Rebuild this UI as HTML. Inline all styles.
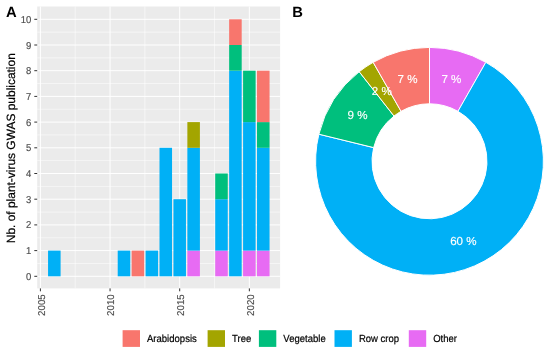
<!DOCTYPE html>
<html><head><meta charset="utf-8"><title>Figure</title>
<style>html,body{margin:0;padding:0;background:#fff}svg{display:block}</style></head>
<body>
<svg width="550" height="352" viewBox="0 0 550 352" font-family="'Liberation Sans', Arial, sans-serif" text-rendering="geometricPrecision">
<rect width="550" height="352" fill="#fff"/>
<rect x="37.2" y="6.5" width="242.90000000000003" height="281.9" fill="#EBEBEB"/>
<line x1="37.2" x2="280.1" y1="263.45" y2="263.45" stroke="#fff" stroke-width="0.55" opacity="0.95"/>
<line x1="37.2" x2="280.1" y1="237.75" y2="237.75" stroke="#fff" stroke-width="0.55" opacity="0.95"/>
<line x1="37.2" x2="280.1" y1="212.05" y2="212.05" stroke="#fff" stroke-width="0.55" opacity="0.95"/>
<line x1="37.2" x2="280.1" y1="186.35" y2="186.35" stroke="#fff" stroke-width="0.55" opacity="0.95"/>
<line x1="37.2" x2="280.1" y1="160.65" y2="160.65" stroke="#fff" stroke-width="0.55" opacity="0.95"/>
<line x1="37.2" x2="280.1" y1="134.95" y2="134.95" stroke="#fff" stroke-width="0.55" opacity="0.95"/>
<line x1="37.2" x2="280.1" y1="109.25" y2="109.25" stroke="#fff" stroke-width="0.55" opacity="0.95"/>
<line x1="37.2" x2="280.1" y1="83.55" y2="83.55" stroke="#fff" stroke-width="0.55" opacity="0.95"/>
<line x1="37.2" x2="280.1" y1="57.85" y2="57.85" stroke="#fff" stroke-width="0.55" opacity="0.95"/>
<line x1="37.2" x2="280.1" y1="32.15" y2="32.15" stroke="#fff" stroke-width="0.55" opacity="0.95"/>
<line y1="6.5" y2="288.4" x1="75.22" x2="75.22" stroke="#fff" stroke-width="0.55" opacity="0.95"/>
<line y1="6.5" y2="288.4" x1="144.88" x2="144.88" stroke="#fff" stroke-width="0.55" opacity="0.95"/>
<line y1="6.5" y2="288.4" x1="214.53" x2="214.53" stroke="#fff" stroke-width="0.55" opacity="0.95"/>
<line x1="37.2" x2="280.1" y1="276.30" y2="276.30" stroke="#fff" stroke-width="1"/>
<line x1="37.2" x2="280.1" y1="250.60" y2="250.60" stroke="#fff" stroke-width="1"/>
<line x1="37.2" x2="280.1" y1="224.90" y2="224.90" stroke="#fff" stroke-width="1"/>
<line x1="37.2" x2="280.1" y1="199.20" y2="199.20" stroke="#fff" stroke-width="1"/>
<line x1="37.2" x2="280.1" y1="173.50" y2="173.50" stroke="#fff" stroke-width="1"/>
<line x1="37.2" x2="280.1" y1="147.80" y2="147.80" stroke="#fff" stroke-width="1"/>
<line x1="37.2" x2="280.1" y1="122.10" y2="122.10" stroke="#fff" stroke-width="1"/>
<line x1="37.2" x2="280.1" y1="96.40" y2="96.40" stroke="#fff" stroke-width="1"/>
<line x1="37.2" x2="280.1" y1="70.70" y2="70.70" stroke="#fff" stroke-width="1"/>
<line x1="37.2" x2="280.1" y1="45.00" y2="45.00" stroke="#fff" stroke-width="1"/>
<line x1="37.2" x2="280.1" y1="19.30" y2="19.30" stroke="#fff" stroke-width="1"/>
<line y1="6.5" y2="288.4" x1="40.40" x2="40.40" stroke="#fff" stroke-width="1"/>
<line y1="6.5" y2="288.4" x1="110.05" x2="110.05" stroke="#fff" stroke-width="1"/>
<line y1="6.5" y2="288.4" x1="179.70" x2="179.70" stroke="#fff" stroke-width="1"/>
<line y1="6.5" y2="288.4" x1="249.35" x2="249.35" stroke="#fff" stroke-width="1"/>
<rect x="48.06" y="250.60" width="12.54" height="25.70" fill="#00B0F6"/>
<rect x="117.71" y="250.60" width="12.54" height="25.70" fill="#00B0F6"/>
<rect x="131.64" y="250.60" width="12.54" height="25.70" fill="#F8766D"/>
<rect x="145.57" y="250.60" width="12.54" height="25.70" fill="#00B0F6"/>
<rect x="159.50" y="147.80" width="12.54" height="128.50" fill="#00B0F6"/>
<rect x="173.43" y="199.20" width="12.54" height="77.10" fill="#00B0F6"/>
<rect x="187.36" y="250.60" width="12.54" height="25.70" fill="#E76BF3"/>
<rect x="187.36" y="147.80" width="12.54" height="102.80" fill="#00B0F6"/>
<rect x="187.36" y="122.10" width="12.54" height="25.70" fill="#A3A500"/>
<rect x="215.22" y="250.60" width="12.54" height="25.70" fill="#E76BF3"/>
<rect x="215.22" y="199.20" width="12.54" height="51.40" fill="#00B0F6"/>
<rect x="215.22" y="173.50" width="12.54" height="25.70" fill="#00BF7D"/>
<rect x="229.15" y="70.70" width="12.54" height="205.60" fill="#00B0F6"/>
<rect x="229.15" y="45.00" width="12.54" height="25.70" fill="#00BF7D"/>
<rect x="229.15" y="19.30" width="12.54" height="25.70" fill="#F8766D"/>
<rect x="243.08" y="250.60" width="12.54" height="25.70" fill="#E76BF3"/>
<rect x="243.08" y="122.10" width="12.54" height="128.50" fill="#00B0F6"/>
<rect x="243.08" y="70.70" width="12.54" height="51.40" fill="#00BF7D"/>
<rect x="257.01" y="250.60" width="12.54" height="25.70" fill="#E76BF3"/>
<rect x="257.01" y="147.80" width="12.54" height="102.80" fill="#00B0F6"/>
<rect x="257.01" y="122.10" width="12.54" height="25.70" fill="#00BF7D"/>
<rect x="257.01" y="70.70" width="12.54" height="51.40" fill="#F8766D"/>
<line x1="34.300000000000004" x2="37.2" y1="276.30" y2="276.30" stroke="#333" stroke-width="1"/>
<text transform="translate(31.20,279.80) scale(0.95,1)" font-size="10" fill="#4D4D4D" stroke="#4D4D4D" stroke-width="0.15" text-anchor="end">0</text>
<line x1="34.300000000000004" x2="37.2" y1="250.60" y2="250.60" stroke="#333" stroke-width="1"/>
<text transform="translate(31.20,254.10) scale(0.95,1)" font-size="10" fill="#4D4D4D" stroke="#4D4D4D" stroke-width="0.15" text-anchor="end">1</text>
<line x1="34.300000000000004" x2="37.2" y1="224.90" y2="224.90" stroke="#333" stroke-width="1"/>
<text transform="translate(31.20,228.40) scale(0.95,1)" font-size="10" fill="#4D4D4D" stroke="#4D4D4D" stroke-width="0.15" text-anchor="end">2</text>
<line x1="34.300000000000004" x2="37.2" y1="199.20" y2="199.20" stroke="#333" stroke-width="1"/>
<text transform="translate(31.20,202.70) scale(0.95,1)" font-size="10" fill="#4D4D4D" stroke="#4D4D4D" stroke-width="0.15" text-anchor="end">3</text>
<line x1="34.300000000000004" x2="37.2" y1="173.50" y2="173.50" stroke="#333" stroke-width="1"/>
<text transform="translate(31.20,177.00) scale(0.95,1)" font-size="10" fill="#4D4D4D" stroke="#4D4D4D" stroke-width="0.15" text-anchor="end">4</text>
<line x1="34.300000000000004" x2="37.2" y1="147.80" y2="147.80" stroke="#333" stroke-width="1"/>
<text transform="translate(31.20,151.30) scale(0.95,1)" font-size="10" fill="#4D4D4D" stroke="#4D4D4D" stroke-width="0.15" text-anchor="end">5</text>
<line x1="34.300000000000004" x2="37.2" y1="122.10" y2="122.10" stroke="#333" stroke-width="1"/>
<text transform="translate(31.20,125.60) scale(0.95,1)" font-size="10" fill="#4D4D4D" stroke="#4D4D4D" stroke-width="0.15" text-anchor="end">6</text>
<line x1="34.300000000000004" x2="37.2" y1="96.40" y2="96.40" stroke="#333" stroke-width="1"/>
<text transform="translate(31.20,99.90) scale(0.95,1)" font-size="10" fill="#4D4D4D" stroke="#4D4D4D" stroke-width="0.15" text-anchor="end">7</text>
<line x1="34.300000000000004" x2="37.2" y1="70.70" y2="70.70" stroke="#333" stroke-width="1"/>
<text transform="translate(31.20,74.20) scale(0.95,1)" font-size="10" fill="#4D4D4D" stroke="#4D4D4D" stroke-width="0.15" text-anchor="end">8</text>
<line x1="34.300000000000004" x2="37.2" y1="45.00" y2="45.00" stroke="#333" stroke-width="1"/>
<text transform="translate(31.20,48.50) scale(0.95,1)" font-size="10" fill="#4D4D4D" stroke="#4D4D4D" stroke-width="0.15" text-anchor="end">9</text>
<line x1="34.300000000000004" x2="37.2" y1="19.30" y2="19.30" stroke="#333" stroke-width="1"/>
<text transform="translate(31.20,22.80) scale(0.95,1)" font-size="10" fill="#4D4D4D" stroke="#4D4D4D" stroke-width="0.15" text-anchor="end">10</text>
<line y1="288.4" y2="291.29999999999995" x1="40.40" x2="40.40" stroke="#333" stroke-width="1"/>
<text transform="translate(44.60,294.30) rotate(-90) scale(0.97,1)" font-size="10" fill="#4D4D4D" stroke="#4D4D4D" stroke-width="0.15" text-anchor="end">2005</text>
<line y1="288.4" y2="291.29999999999995" x1="110.05" x2="110.05" stroke="#333" stroke-width="1"/>
<text transform="translate(114.25,294.30) rotate(-90) scale(0.97,1)" font-size="10" fill="#4D4D4D" stroke="#4D4D4D" stroke-width="0.15" text-anchor="end">2010</text>
<line y1="288.4" y2="291.29999999999995" x1="179.70" x2="179.70" stroke="#333" stroke-width="1"/>
<text transform="translate(183.90,294.30) rotate(-90) scale(0.97,1)" font-size="10" fill="#4D4D4D" stroke="#4D4D4D" stroke-width="0.15" text-anchor="end">2015</text>
<line y1="288.4" y2="291.29999999999995" x1="249.35" x2="249.35" stroke="#333" stroke-width="1"/>
<text transform="translate(253.55,294.30) rotate(-90) scale(0.97,1)" font-size="10" fill="#4D4D4D" stroke="#4D4D4D" stroke-width="0.15" text-anchor="end">2020</text>
<text transform="translate(14.5,148.2) rotate(-90)" font-size="11.95" stroke="#000" stroke-width="0.2" fill="#000" text-anchor="middle">Nb. of plant-virus GWAS publication</text>
<text x="6.0" y="17.1" font-size="14.8" font-weight="bold" fill="#000">A</text>
<text x="292.2" y="17.1" font-size="14.8" font-weight="bold" fill="#000">B</text>
<path d="M429.50,47.40 A113.9,113.9 0 0 1 485.84,62.31 L457.94,111.33 A57.5,57.5 0 0 0 429.50,103.80 Z" fill="#E76BF3" stroke="#fff" stroke-width="1" stroke-linejoin="round"/>
<path d="M485.84,62.31 A113.9,113.9 0 1 1 318.87,134.20 L373.65,147.62 A57.5,57.5 0 1 0 457.94,111.33 Z" fill="#00B0F6" stroke="#fff" stroke-width="1" stroke-linejoin="round"/>
<path d="M318.87,134.20 A113.9,113.9 0 0 1 359.19,71.69 L394.01,116.06 A57.5,57.5 0 0 0 373.65,147.62 Z" fill="#00BF7D" stroke="#fff" stroke-width="1" stroke-linejoin="round"/>
<path d="M359.19,71.69 A113.9,113.9 0 0 1 373.16,62.31 L401.06,111.33 A57.5,57.5 0 0 0 394.01,116.06 Z" fill="#A3A500" stroke="#fff" stroke-width="1" stroke-linejoin="round"/>
<path d="M373.16,62.31 A113.9,113.9 0 0 1 429.50,47.40 L429.50,103.80 A57.5,57.5 0 0 0 401.06,111.33 Z" fill="#F8766D" stroke="#fff" stroke-width="1" stroke-linejoin="round"/>
<text x="451.43" y="83.05" font-size="11.6" fill="#fff" stroke="#fff" stroke-width="0.15" text-anchor="middle">7 %</text>
<text x="463.39" y="244.61" font-size="11.6" fill="#fff" stroke="#fff" stroke-width="0.15" text-anchor="middle">60 %</text>
<text x="357.48" y="119.45" font-size="11.6" fill="#fff" stroke="#fff" stroke-width="0.15" text-anchor="middle">9 %</text>
<text x="381.72" y="94.75" font-size="11.6" fill="#fff" stroke="#fff" stroke-width="0.15" text-anchor="middle">2 %</text>
<text x="407.57" y="83.05" font-size="11.6" fill="#fff" stroke="#fff" stroke-width="0.15" text-anchor="middle">7 %</text>
<rect x="122.6" y="330.2" width="17.4" height="16.7" fill="#F8766D"/>
<text transform="translate(147.0,342.1) scale(0.925,1)" font-size="10.3" fill="#000" stroke="#000" stroke-width="0.2">Arabidopsis</text>
<rect x="207.6" y="330.2" width="17.4" height="16.7" fill="#A3A500"/>
<text transform="translate(232.0,342.1) scale(0.925,1)" font-size="10.3" fill="#000" stroke="#000" stroke-width="0.2">Tree</text>
<rect x="258.9" y="330.2" width="17.4" height="16.7" fill="#00BF7D"/>
<text transform="translate(283.3,342.1) scale(0.925,1)" font-size="10.3" fill="#000" stroke="#000" stroke-width="0.2">Vegetable</text>
<rect x="334.5" y="330.2" width="17.4" height="16.7" fill="#00B0F6"/>
<text transform="translate(358.9,342.1) scale(0.925,1)" font-size="10.3" fill="#000" stroke="#000" stroke-width="0.2">Row crop</text>
<rect x="408.8" y="330.2" width="17.4" height="16.7" fill="#E76BF3"/>
<text transform="translate(433.2,342.1) scale(0.925,1)" font-size="10.3" fill="#000" stroke="#000" stroke-width="0.2">Other</text>
</svg>
</body></html>
